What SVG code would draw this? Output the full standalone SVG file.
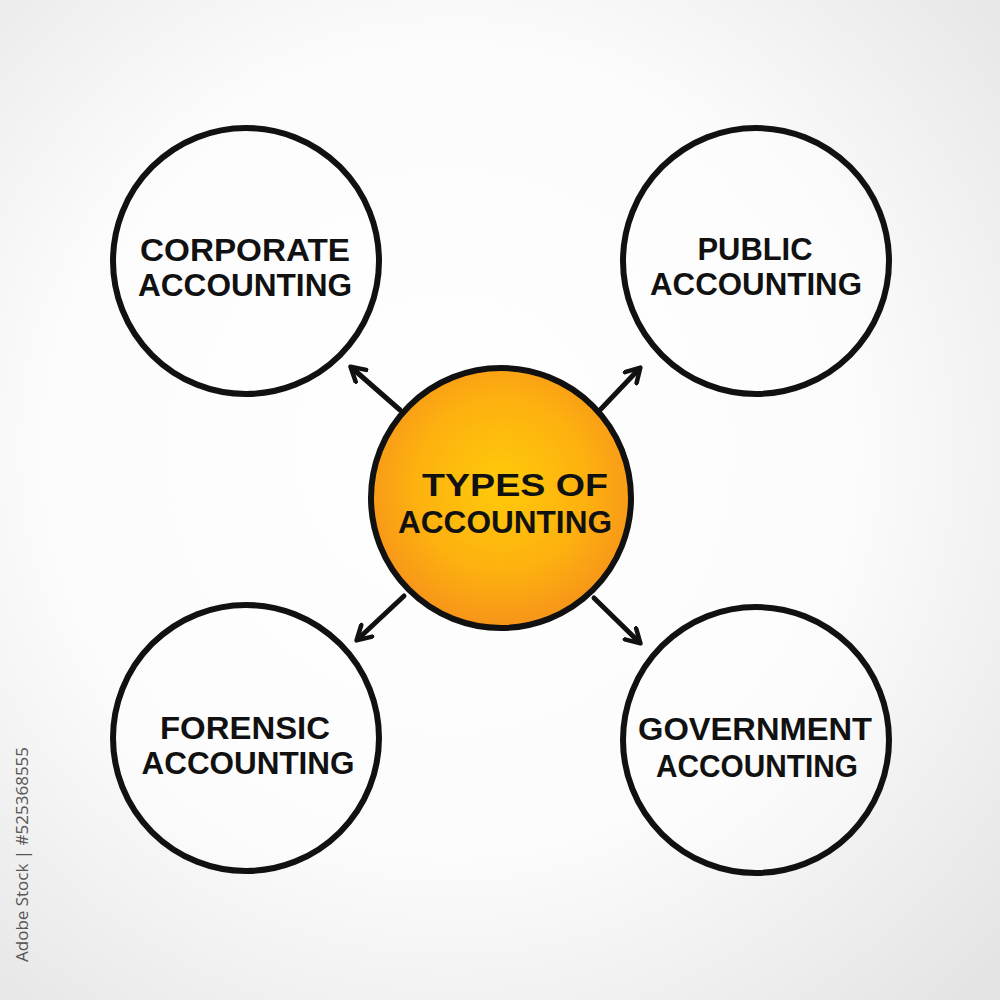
<svg xmlns="http://www.w3.org/2000/svg" width="1000" height="1000" viewBox="0 0 1000 1000">
<defs>
<radialGradient id="bg" cx="0.45" cy="0.45" r="0.75">
<stop offset="0" stop-color="#ffffff"/>
<stop offset="0.55" stop-color="#fbfbfb"/>
<stop offset="1" stop-color="#e4e4e4"/>
</radialGradient>
<radialGradient id="core" cx="0.5" cy="0.45" r="0.55">
<stop offset="0" stop-color="#ffca0a"/>
<stop offset="0.6" stop-color="#fdb10f"/>
<stop offset="1" stop-color="#f7941a"/>
</radialGradient>
<marker id="ah" viewBox="0 0 20 20" refX="14" refY="10" markerWidth="20" markerHeight="20" markerUnits="userSpaceOnUse" orient="auto">
<path d="M2,2 L16,10 L2,18" fill="none" stroke="#111" stroke-width="4.5" stroke-linecap="round" stroke-linejoin="round"/>
</marker>
</defs>
<style>
.ring{fill:#fff;fill-opacity:0.35;stroke:#111;stroke-width:6}
.lbl{font-family:"Liberation Sans","DejaVu Sans",sans-serif;font-weight:bold;font-size:31px;fill:#111;text-anchor:middle}
.con{stroke:#111;stroke-width:5;stroke-linecap:round;fill:none;marker-end:url(#ah)}
</style>
<rect width="1000" height="1000" fill="url(#bg)"/>
<g id="connectors">
<line class="con" x1="400" y1="410" x2="352" y2="368"/>
<line class="con" x1="600" y1="410" x2="639" y2="369"/>
<line class="con" x1="404" y1="596" x2="358" y2="639"/>
<line class="con" x1="594" y1="598" x2="639" y2="642"/>
</g>
<g id="center">
<circle cx="501" cy="498" r="130" fill="url(#core)" stroke="#111" stroke-width="6"/>
<text class="lbl" x="515" y="496" textLength="186" lengthAdjust="spacingAndGlyphs">TYPES OF</text>
<text class="lbl" x="505" y="533" textLength="214" lengthAdjust="spacingAndGlyphs">ACCOUNTING</text>
</g>
<g id="corporate">
<circle class="ring" cx="246" cy="261" r="133"/>
<text class="lbl" x="245" y="261" textLength="210" lengthAdjust="spacingAndGlyphs">CORPORATE</text>
<text class="lbl" x="245" y="296" textLength="214" lengthAdjust="spacingAndGlyphs">ACCOUNTING</text>
</g>
<g id="public">
<circle class="ring" cx="756" cy="261" r="133"/>
<text class="lbl" x="755" y="260" textLength="115" lengthAdjust="spacingAndGlyphs">PUBLIC</text>
<text class="lbl" x="756" y="295" textLength="212" lengthAdjust="spacingAndGlyphs">ACCOUNTING</text>
</g>
<g id="forensic">
<circle class="ring" cx="246" cy="738" r="133"/>
<text class="lbl" x="245" y="739" textLength="170" lengthAdjust="spacingAndGlyphs">FORENSIC</text>
<text class="lbl" x="248" y="774" textLength="213" lengthAdjust="spacingAndGlyphs">ACCOUNTING</text>
</g>
<g id="government">
<circle class="ring" cx="756" cy="740" r="133"/>
<text class="lbl" x="755" y="740" textLength="234" lengthAdjust="spacingAndGlyphs">GOVERNMENT</text>
<text class="lbl" x="757" y="777" textLength="202" lengthAdjust="spacingAndGlyphs">ACCOUNTING</text>
</g>
<text x="0" y="0" transform="translate(28,962) rotate(-90)" font-family="'Open Sans','DejaVu Sans',sans-serif" font-size="17" fill="#555">Adobe Stock | #525368555</text>
</svg>
